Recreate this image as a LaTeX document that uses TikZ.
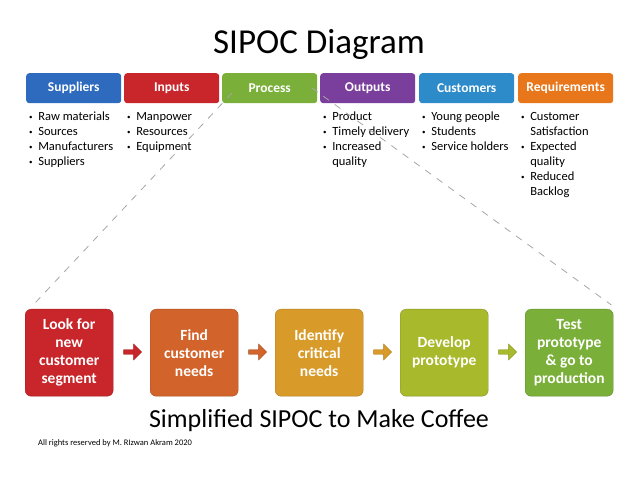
\documentclass[tikz,border=0pt]{standalone}
\usepackage{fontspec}
\setmainfont{Carlito}
\usetikzlibrary{shapes.arrows}
\definecolor{cBlue}{HTML}{2E6BBF}
\definecolor{cRed}{HTML}{C8262B}
\definecolor{cGreen}{HTML}{7AB03A}
\definecolor{cPurple}{HTML}{7A3E9D}
\definecolor{cCyan}{HTML}{2E8BC9}
\definecolor{cOrange}{HTML}{E8771C}
\definecolor{bRed}{HTML}{C8262B}
\definecolor{bOrange}{HTML}{D2632A}
\definecolor{bAmber}{HTML}{D89B2A}
\definecolor{bYellow}{HTML}{A8B92C}
\definecolor{bGreen}{HTML}{7AB03A}
\tikzset{
 head/.style={fill=#1, rounded corners=3pt, minimum width=95pt, minimum height=30pt, inner sep=0pt, text=white, font=\bfseries\fontsize{13.5}{15}\selectfont, anchor=north west},
 stepbox/.style={fill=#1, draw=#1!80!black, rounded corners=6pt, minimum width=88pt, minimum height=87pt, inner sep=2pt, text=white, align=center, font=\bfseries\fontsize{15.5}{18}\selectfont, anchor=north west},
 blist/.style={anchor=north west, align=left, inner sep=0pt, font=\fontsize{12.5}{15}\selectfont},
 barrow/.style={single arrow, fill=#1, draw=#1!80!black, minimum height=18pt, minimum width=16pt, single arrow head extend=3pt, inner sep=1pt},
 guide/.style={draw=gray!70, dashed, dash pattern=on 7pt off 7pt, line width=0.8pt}
}
\newcommand{\bl}{{\scriptsize\raisebox{0.3ex}{•}}\hspace{0.45em}}
\newcommand{\bi}{\phantom{\bl}}
\begin{document}
\begin{tikzpicture}[x=1pt,y=-1pt]
\useasboundingbox (0,0) rectangle (638,478);
\node[font=\fontsize{35}{40}\selectfont] (title) at (319,44) {SIPOC Diagram};
\node[head=cBlue] (sup) at (26,73) {Suppliers};
\node[head=cRed] (inp) at (124,73) {Inputs};
\node[head=cGreen] (pro) at (222,73) {Process};
\node[head=cPurple] (out) at (320,73) {Outputs};
\node[head=cCyan] (cus) at (419,73) {Customers};
\node[head=cOrange] (req) at (518,73) {Requirements};
\node[blist] (l1) at (29,112) {\bl Raw materials\\\bl Sources\\\bl Manufacturers\\\bl Suppliers};
\node[blist] (l2) at (127,112) {\bl Manpower\\\bl Resources\\\bl Equipment};
\node[blist] (l4) at (323,112) {\bl Product\\\bl Timely delivery\\\bl Increased\\\bi quality};
\node[blist] (l5) at (422,112) {\bl Young people\\\bl Students\\\bl Service holders};
\node[blist] (l6) at (521,112) {\bl Customer\\\bi Satisfaction\\\bl Expected\\\bi quality\\\bl Reduced\\\bi Backlog};
\node[stepbox=bRed] (s1) at (25,309) {Look for\\new\\customer\\segment};
\node[stepbox=bOrange] (s2) at (150,309) {Find\\customer\\needs};
\node[stepbox=bAmber] (s3) at (275,309) {Identify\\critical\\needs};
\node[stepbox=bYellow] (s4) at (400,309) {Develop\\prototype};
\node[stepbox=bGreen] (s5) at (525,309) {Test\\prototype\\\& go to\\production};
\node[barrow=bRed] (a1) at (131.5,352) {};
\node[barrow=bOrange] (a2) at (256.5,352) {};
\node[barrow=bAmber] (a3) at (381.5,352) {};
\node[barrow=bYellow] (a4) at (506.5,352) {};
\coordinate (pl) at (232,93);
\coordinate (pr) at (312,88);
\draw[guide] (pl) -- ([shift={(10,-6)}]s1.north west);
\draw[guide] (pr) -- ([shift={(-2,-4)}]s5.north east);
\node[font=\fontsize{26}{30}\selectfont] (sub) at (319,421) {Simplified SIPOC to Make Coffee};
\node[anchor=west, font=\fontsize{8.5}{10}\selectfont, inner sep=0pt] (copy) at (38,443) {All rights reserved by M. RIzwan Akram 2020};
\end{tikzpicture}
\end{document}
